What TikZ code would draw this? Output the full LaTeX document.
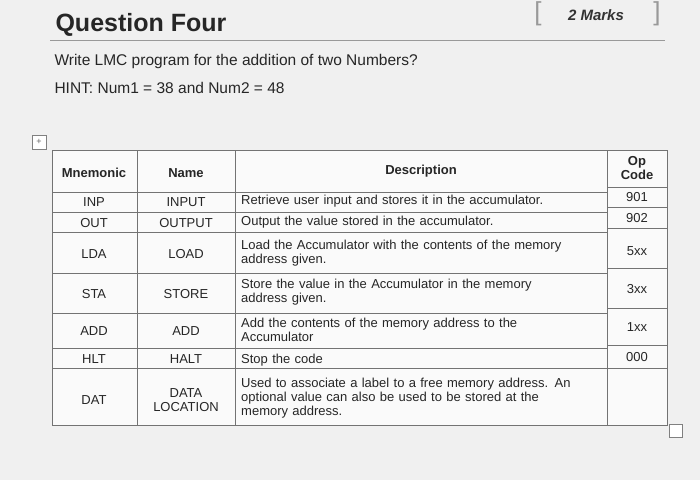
\documentclass[tikz,border=0pt]{standalone}
\usepackage{fontspec}
\setmainfont{Liberation Sans}
\begin{document}
\begin{tikzpicture}[x=1pt,y=-1pt,
  cell/.style={font=\fontsize{13}{14}\selectfont,text=black!85,inner sep=0pt},
  hcell/.style={cell,font=\bfseries\fontsize{13}{14}\selectfont},
  desc/.style={cell,anchor=west,align=left,text width=365pt},
  grid/.style={draw=black!55,line width=0.7pt}]
\fill[gray!12] (0,0) rectangle (700,480);
\useasboundingbox (0,0) rectangle (700,480);
\node[anchor=west,font=\bfseries\fontsize{25}{28}\selectfont,text=black!85] (title) at (52,25) {Question Four};
\draw[black!40,line width=0.8pt] (50,40) -- (665,40);
\node[font=\bfseries\itshape\fontsize{15}{17}\selectfont,text=black!80] (marks) at (596,15) {2 Marks};
\node[font=\fontsize{26}{26}\selectfont,text=black!40] (lb) at (538,14) {[};
\node[font=\fontsize{26}{26}\selectfont,text=black!40] (rb) at (657,14) {]};
\node[anchor=west,font=\fontsize{15.5}{18}\selectfont,text=black!85] (q) at (51,61) {Write LMC program for the addition of two Numbers?};
\node[anchor=west,font=\fontsize{15.5}{18}\selectfont,text=black!85] (h) at (51,88) {HINT: Num1 = 38 and Num2 = 48};
\node[draw=black!50,fill=white,minimum size=14pt,inner sep=0pt,font=\small,text=black!60] (icon) at (39,142) {+};
% table
\fill[white!60!gray!10] (52,150) rectangle (667,425);
\draw[grid] (52,150) rectangle (667,425);
\foreach \x in {137,235,607} \draw[grid] (\x,150) -- (\x,425);
\draw[grid] (52,192) -- (607,192);
\draw[grid] (607,187) -- (667,187);
\foreach \y in {212,232,273,313,348,368} \draw[grid] (52,\y) -- (607,\y);
\foreach \y in {207,228,268,308,345,368} \draw[grid] (607,\y) -- (667,\y);
\node[draw=black!50,fill=white,minimum size=13pt,inner sep=0pt] (cb) at (676,431) {};
% header
\node[hcell] (h1) at (94,173) {Mnemonic};
\node[hcell] (h2) at (186,173) {Name};
\node[hcell] (h3) at (421,171) {Description};
\node[hcell,align=center] (h4) at (637,168) {Op\\Code};
% rows
\node[cell] at (94,202) {INP};
\node[cell] at (186,202) {INPUT};
\node[desc] at (241,201) {Retrieve user input and stores it in the accumulator.};
\node[cell] at (637,197) {901};
\node[cell] at (94,223) {OUT};
\node[cell] at (186,223) {OUTPUT};
\node[desc] at (241,222) {Output the value stored in the accumulator.};
\node[cell] at (637,218) {902};
\node[cell] at (94,254) {LDA};
\node[cell] at (186,254) {LOAD};
\node[desc] at (241,253) {Load the Accumulator with the contents of the memory\\address given.};
\node[cell] at (637,251) {5xx};
\node[cell] at (94,294) {STA};
\node[cell] at (186,294) {STORE};
\node[desc] at (241,292) {Store the value in the Accumulator in the memory\\address given.};
\node[cell] at (637,289) {3xx};
\node[cell] at (94,331) {ADD};
\node[cell] at (186,331) {ADD};
\node[desc] at (241,330) {Add the contents of the memory address to the\\Accumulator};
\node[cell] at (637,327) {1xx};
\node[cell] at (94,359) {HLT};
\node[cell] at (186,359) {HALT};
\node[desc] at (241,360) {Stop the code};
\node[cell] at (637,357) {000};
\node[cell] at (94,400) {DAT};
\node[cell,align=center] at (186,400) {DATA\\LOCATION};
\node[desc] at (241,398) {Used to associate a label to a free memory address. An\\optional value can also be used to be stored at the\\memory address.};
\end{tikzpicture}
\end{document}
